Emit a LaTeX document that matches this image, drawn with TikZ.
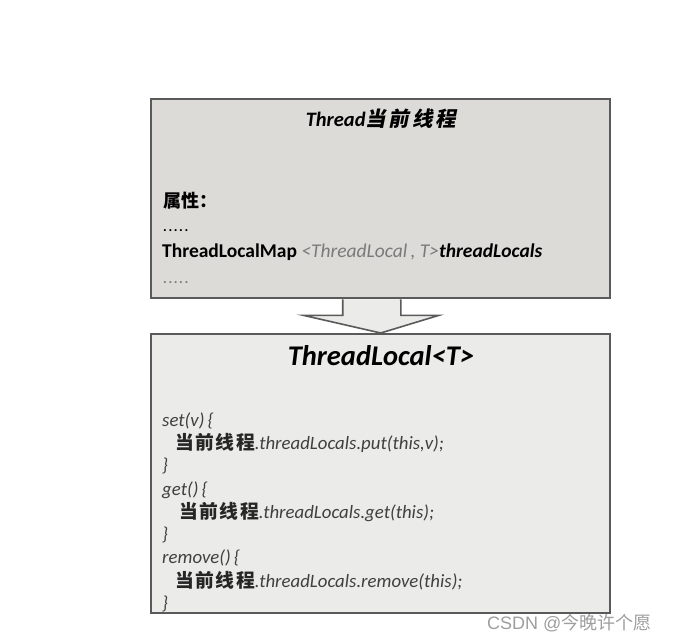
\documentclass[tikz,border=0pt]{standalone}
\usepackage{fontspec}
\setmainfont{Carlito}
\newfontfamily\cjk{Noto Sans CJK SC}
\newfontfamily\cjksl{Noto Sans CJK SC}[FakeSlant=0.2,LetterSpace=14]
\newfontfamily\cjksp{Noto Sans CJK SC}[LetterSpace=8]
\newfontfamily\wmfont{Liberation Sans}
\usetikzlibrary{calc}
\definecolor{boxA}{HTML}{DCDBD7}
\definecolor{boxB}{HTML}{EBEBE9}
\definecolor{edge}{HTML}{5A5A5A}
\definecolor{codecol}{HTML}{404040}
\definecolor{greytxt}{HTML}{7A7A7A}
\newcommand{\mydots}{.\kern1.6pt.\kern1.6pt.\kern1.6pt.\kern1.6pt.}
\tikzset{
  panel/.style={draw=edge, line width=2.4pt, inner sep=0pt, anchor=north west},
  txt/.style={inner sep=0pt, anchor=base west},
  code/.style={txt, font=\fontsize{18.8}{20}\selectfont\itshape, text=codecol},
}
\begin{document}
\begin{tikzpicture}[x=1pt,y=-1pt]
\useasboundingbox (0,0) rectangle (674,640);
\fill[white] (0,0) rectangle (674,640);
% boxes
\node[panel, fill=boxA, minimum width=459pt, minimum height=199pt] (thread) at (150,98) {};
\node[panel, fill=boxB, minimum width=459pt, minimum height=279pt] (local) at (150,333) {};
% arrow
\draw[edge, line width=1.6pt, fill=boxB, line join=miter]
  ($(thread.south)+(-38,0)$) -- ($(thread.south)+(-38,16)$) -- ($(thread.south)+(-77,16)$)
  -- (local.north) -- ($(thread.south)+(58,16)$) -- ($(thread.south)+(20,16)$) -- ($(thread.south)+(20,0)$);
\fill[boxB] ($(thread.south)+(-37,1.3)$) rectangle ($(thread.south)+(19,17)$);
% top box text
\node[inner sep=0pt, anchor=base] (t1) at (381,126) {\fontsize{20.5}{24}\selectfont\bfseries\itshape Thread{\cjksl\bfseries 当前线程}};
\node[txt] (t2) at (163,207) {\fontsize{18}{22}\selectfont\cjk\bfseries 属性：};
\node[txt] (t3) at (163,231) {\fontsize{14}{16}\selectfont\bfseries\mydots};
\node[txt] (t4) at (162,257) {\fontsize{19.5}{22}\selectfont\bfseries ThreadLocalMap {\mdseries\itshape\color{greytxt}<ThreadLocal\,, T>}{\itshape threadLocals}};
\node[txt] (t5) at (163,283) {\fontsize{14}{16}\selectfont\bfseries\color{greytxt}\mydots};
% bottom box text
\node[inner sep=0pt, anchor=base] (l1) at (381,365) {\fontsize{28.5}{30}\selectfont\bfseries\itshape ThreadLocal<T>};
\node[code] (c1) at (162,426) {set(v)\,\{};
\node[code] (c2) at (175,449) {{\upshape\cjksp\bfseries\color{black!85}当前线程}.threadLocals.put(this,v);};
\node[code] (c3) at (162,471) {\}};
\node[code] (c4) at (162,495) {get()\,\{};
\node[code] (c5) at (179,518) {{\upshape\cjksp\bfseries\color{black!85}当前线程}.threadLocals.get(this);};
\node[code] (c6) at (162,540) {\}};
\node[code] (c7) at (162,563) {remove()\,\{};
\node[code] (c8) at (175,587) {{\upshape\cjksp\bfseries\color{black!85}当前线程}.threadLocals.remove(this);};
\node[code] (c9) at (162,609) {\}};
% watermark
\node[txt, text=black!38] (wm) at (487,629) {\fontsize{18}{20}\selectfont\wmfont CSDN @{\cjk 今晚许个愿}};
\end{tikzpicture}
\end{document}
